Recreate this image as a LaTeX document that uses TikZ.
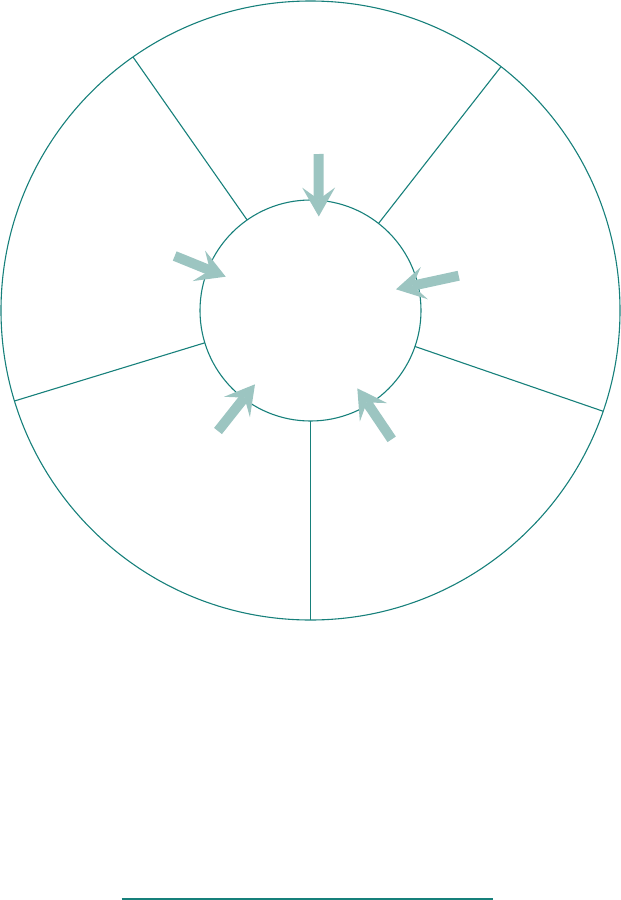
\documentclass[tikz,border=0pt]{standalone}
\usetikzlibrary{calc}
\definecolor{tealline}{HTML}{17807B}
\definecolor{arrowfill}{HTML}{9CC5C1}
\begin{document}
\begin{tikzpicture}[x=1pt,y=-1pt,
  thinline/.style={draw=tealline,line width=1.1pt},
  ring/.style={circle,draw=tealline,line width=1.1pt,inner sep=0pt,outer sep=0pt},
  shaft/.style={draw=arrowfill,line width=10pt},
  headfill/.style={fill=arrowfill}]
\useasboundingbox (0,0) rectangle (621,900);
\coordinate (c) at (310.5,310.5);
\node[ring,minimum size=619pt] (outer) at (c) {};
\node[ring,minimum size=221pt] (inner) at (c) {};
% spokes
\foreach \a in {125.2,52.75,-19.6,-90,197.6}{
  \draw[thinline] (inner.\a) -- (outer.\a);
}
% arrows
\coordinate (t1) at (318.5,154);   \coordinate (h1) at (318.8,216.5);
\coordinate (t2) at (174.7,256);   \coordinate (h2) at (225.7,276.7);
\coordinate (t3) at (458.7,275.7); \coordinate (h3) at (396,289.3);
\coordinate (t4) at (218,431);     \coordinate (h4) at (255,384.3);
\coordinate (t5) at (391.7,439.3); \coordinate (h5) at (357.3,388.3);
\foreach \i in {1,...,5}{
  \coordinate (n\i) at ($(h\i)!17pt!(t\i)$);
  \coordinate (b\i) at ($(h\i)!29pt!(t\i)$);
  \coordinate (pa\i) at ($(b\i)!16.5pt!90:(h\i)$);
  \coordinate (pb\i) at ($(b\i)!16.5pt!-90:(h\i)$);
  \draw[shaft] (t\i) -- (n\i);
  \fill[headfill] (h\i) -- (pa\i) -- (n\i) -- (pb\i) -- cycle;
}
% bottom rule
\coordinate (l1) at (121.5,899);
\coordinate (l2) at (493.3,899);
\draw[draw=tealline,line width=1.6pt] (l1) -- (l2);
\end{tikzpicture}
\end{document}
